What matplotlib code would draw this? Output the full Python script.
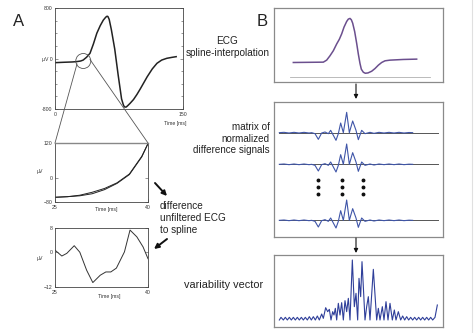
import matplotlib
matplotlib.use('Agg')
import matplotlib.pyplot as plt
from matplotlib.patches import Circle, FancyArrowPatch

W, H = 474, 333
plt.rcParams['font.family'] = ['Liberation Sans', 'DejaVu Sans']

# ---------------- data ----------------
# Panel A top: unfiltered ECG beat (time ms, µV)
ecg_t = [0, 10, 20, 25, 30, 33, 37, 41, 45, 49, 53, 56.6, 59.5, 61, 62, 63.5, 66,
         70, 74, 78, 80, 81, 82, 83.5, 85, 88, 92, 96, 100, 104, 108, 114, 119.5,
         125, 131, 137, 142]
ecg_v = [-66, -60, -55, -50, -40, -25, 20, 82, 230, 400, 520, 608, 655, 670, 665,
         620, 460, 150, -260, -640, -730, -760, -770, -768, -750, -710, -650, -570,
         -480, -385, -290, -165, -76, -25, 3, 18, 29]

# Panel A middle: zoomed segment, unfiltered ECG and spline (µV)
seg_t = [25, 27, 29, 31, 33, 35, 37, 39, 40]
seg_raw = [-64, -62, -57, -47, -34, -15, 15, 75, 118]
seg_spline = [-64, -62, -59, -52, -38, -17, 13, 73, 118]

# Panel A bottom: difference unfiltered ECG to spline (µV)
dif_t = [25, 26.1, 26.9, 28.1, 29.0, 30.1, 31.1, 32.3, 33.2, 34.0, 34.9, 36.2,
         37.1, 38.2, 39.2, 40]
dif_v = [0.5, -1.5, -0.6, 2.0, -0.2, -6.3, -10.5, -8.0, -6.9, -6.9, -5.6, -0.1,
         7.3, 5.0, 1.6, -2.4]

# Panel B top: spline-interpolated ECG (sample, amplitude a.u.)
spl_s = [58, 148, 158, 168, 178, 188, 196, 203, 210, 218, 223, 228, 232, 236, 242,
         248, 253, 258, 262, 268, 274, 282, 293, 303, 313, 323, 333, 348, 388, 428]
spl_v = [0, 1, 7, 20, 35, 55, 69, 85, 105, 122, 129, 131, 127, 117, 92, 57, 25, -3,
         -20, -29, -32, -31, -26, -18, -8, 0, 5, 7, 9, 10]

# Panel B middle: normalized difference signal (sample, a.u.)
nd_s = [16, 30, 45, 60, 75, 90, 105, 113, 123, 133, 143, 153, 163, 170, 178, 186,
        193, 200, 208, 218, 226, 236, 246, 253, 263, 273, 288, 300, 315, 330, 345,
        360, 375, 390, 405, 416]
nd_v = [0, 1, -1, 1, -1, 1, -1, 0, -3, -20, -1, 2, -3, 7, -8, -23, -3, 29, 0, 61,
        0, 35, 7, -21, 7, -3, 1, -2, 1, -1, 1, -1, 1, -1, 0.5, 0]
nd_rows = ['row 1', 'row 2', 'row n']

# Panel B bottom: variability vector (sample, a.u.)
var_s = [16, 21, 28, 34, 40, 46, 52, 58, 64, 70, 76, 82, 88, 94, 100, 106, 112,
         118, 124, 130, 136, 143, 148, 155, 161, 166, 171, 176, 180, 184, 188, 193,
         198, 203, 208, 213, 218, 223, 228, 235, 241, 246, 251, 255, 260, 264, 268,
         273, 278, 283, 288, 298, 308, 313, 318, 325, 330, 336, 342, 348, 355, 361,
         366, 373, 380, 386, 392, 398, 404, 410, 416, 422, 428, 434, 440, 446, 452,
         458, 464, 470, 476, 483, 490]
var_v = [21, 29, 21, 29, 21, 29, 21, 29, 21, 29, 21, 29, 21, 29, 21, 31, 21, 31,
         21, 33, 21, 39, 26, 58, 46, 53, 21, 46, 36, 56, 21, 71, 36, 73, 21, 79, 46,
         86, 21, 201, 61, 101, 21, 146, 91, 196, 121, 21, 61, 91, 21, 173, 21, 56,
         21, 61, 21, 76, 21, 71, 21, 51, 21, 46, 21, 33, 21, 31, 21, 29, 21, 29, 21,
         29, 21, 29, 21, 29, 21, 29, 21, 29, 66]

# ---------------- figure ----------------
fig = plt.figure(figsize=(W / 100, H / 100), dpi=100)


def px_axes(l, t, r, b, **kw):
    return fig.add_axes([l / W, 1 - b / H, (r - l) / W, (b - t) / H], **kw)


spine_c = '#444444'
tick_fs = 3.7
line_c = '#222222'


def style_a(ax):
    for s in ax.spines.values():
        s.set_color(spine_c)
        s.set_linewidth(0.6)
    ax.tick_params(direction='in', length=2, width=0.4, colors=spine_c,
                   labelsize=tick_fs, pad=2, right=True, labelcolor='#333333')


# A top
ax1 = px_axes(55, 8, 183, 109)
ax1.plot(ecg_t, ecg_v, color=line_c, lw=1.1)
ax1.set_xlim(0, 150)
ax1.set_ylim(-800, 800)
ax1.set_yticks([-800, 0, 800], ['-800', 'µV 0', '800'])
ax1.set_yticks(range(-600, 800, 200), minor=True)
ax1.set_xticks([0, 150], ['0', '150'])
style_a(ax1)
ax1.tick_params(which='minor', direction='in', length=1.5, width=0.4,
                colors=spine_c, right=True)

# A middle
ax2 = px_axes(55, 143, 148, 202)
ax2.plot(seg_t, seg_raw, color=line_c, lw=0.7)
ax2.plot(seg_t, seg_spline, color=line_c, lw=0.7)
ax2.set_xlim(25, 40)
ax2.set_ylim(-80, 120)
ax2.set_yticks([-80, 0, 120])
ax2.set_xticks([25, 40])
style_a(ax2)
ax2.spines['top'].set_color('#888888')
ax2.spines['top'].set_linewidth(1.0)

# A bottom
ax3 = px_axes(55, 228, 148, 287)
ax3.plot(dif_t, dif_v, color='#333333', lw=0.7)
ax3.set_xlim(25, 40)
ax3.set_ylim(-12, 8)
ax3.set_yticks([-12, 0, 8])
ax3.set_xticks([25, 40])
style_a(ax3)

box_c = '#8a8a8a'


def style_b(ax):
    for s in ax.spines.values():
        s.set_color(box_c)
        s.set_linewidth(0.9)
    ax.set_xticks([])
    ax.set_yticks([])
    ax.set_xlim(0, 507)


# B top
bx1 = px_axes(274, 8, 443, 82)
style_b(bx1)
bx1.set_ylim(-58, 162)
bx1.plot([48, 468], [-43, -43], color='#b0b0b0', lw=0.6)
bx1.plot(spl_s, spl_v, color='#6b4f8e', lw=1.1)

# B middle
bx2 = px_axes(274, 102, 443, 237)
style_b(bx2)
bx2.set_ylim(0, 405)
row_base = [313, 218, 50]
for name, base in zip(nd_rows, row_base):
    bx2.plot([16, 493], [base, base], color='#555555', lw=0.7)
    bx2.plot(nd_s, [base + v for v in nd_v], color='#3f55a8', lw=0.8)
for xd in [133, 203, 268]:
    bx2.plot([xd] * 3, [170, 150, 130], 'o', color='#111111', ms=1.8)

# B bottom
bx3 = px_axes(274, 255, 443, 327)
style_b(bx3)
bx3.set_ylim(0, 216)
bx3.plot(var_s, var_v, color='#2f3f9a', lw=0.8)

# overlay for annotations (pixel coordinates)
ov = fig.add_axes([0, 0, 1, 1], zorder=10)
ov.set_xlim(0, W)
ov.set_ylim(H, 0)
ov.axis('off')
ov.patch.set_alpha(0)

ov.add_patch(Circle((83.3, 61), 7.5, fill=False, ec='#555555', lw=0.6))
ov.plot([77, 55], [64, 143], color='#555555', lw=0.6)
ov.plot([90, 148], [59.5, 143], color='#555555', lw=0.6)
ov.plot([472, 472], [0, H], color='#e0e0e0', lw=0.8)

ov.text(19, 22, 'A', fontsize=12, ha='center', va='center', color='#222222')
ov.text(262, 21, 'B', fontsize=12, ha='center', va='center', color='#222222')

ov.text(175, 123, 'Time [ms]', fontsize=tick_fs, ha='center', va='center', color='#333333')
ov.text(106, 209, 'Time [ms]', fontsize=tick_fs, ha='center', va='center', color='#333333')
ov.text(109, 296.5, 'Time [ms]', fontsize=tick_fs, ha='center', va='center', color='#333333')
ov.text(40, 171.5, 'µV', fontsize=tick_fs, ha='center', va='center', color='#333333')
ov.text(40, 258.5, 'µV', fontsize=tick_fs, ha='center', va='center', color='#333333')

txt_c = '#222222'
ov.text(227, 41, 'ECG', fontsize=7.2, ha='center', va='center', color=txt_c)
ov.text(228, 52.5, 'spline-interpolation', fontsize=7.2, ha='center', va='center', color=txt_c)
for y, s in zip([127, 138.5, 150], ['matrix of', 'normalized', 'difference signals']):
    ov.text(270, y, s, fontsize=7.1, ha='right', va='center', color=txt_c)
for y, s in zip([206, 218, 230], ['difference', 'unfiltered ECG', 'to spline']):
    ov.text(160, y, s, fontsize=7.2, ha='left', va='center', color=txt_c)
ov.text(263, 285, 'variability vector', fontsize=7.8, ha='right', va='center', color=txt_c)

for (x0, y0), (x1, y1) in [((155, 183), (167, 196)), ((167, 239), (154, 249)),
                           ((356, 84), (356, 99)), ((356, 238), (356, 253))]:
    lw = 1.4 if x0 < 200 else 0.8
    ov.add_patch(FancyArrowPatch((x0, y0), (x1, y1), arrowstyle='-|>',
                                 mutation_scale=7 if x0 < 200 else 6, lw=lw,
                                 color='#111111', shrinkA=0, shrinkB=0))

fig.savefig('out.png', dpi=100)
